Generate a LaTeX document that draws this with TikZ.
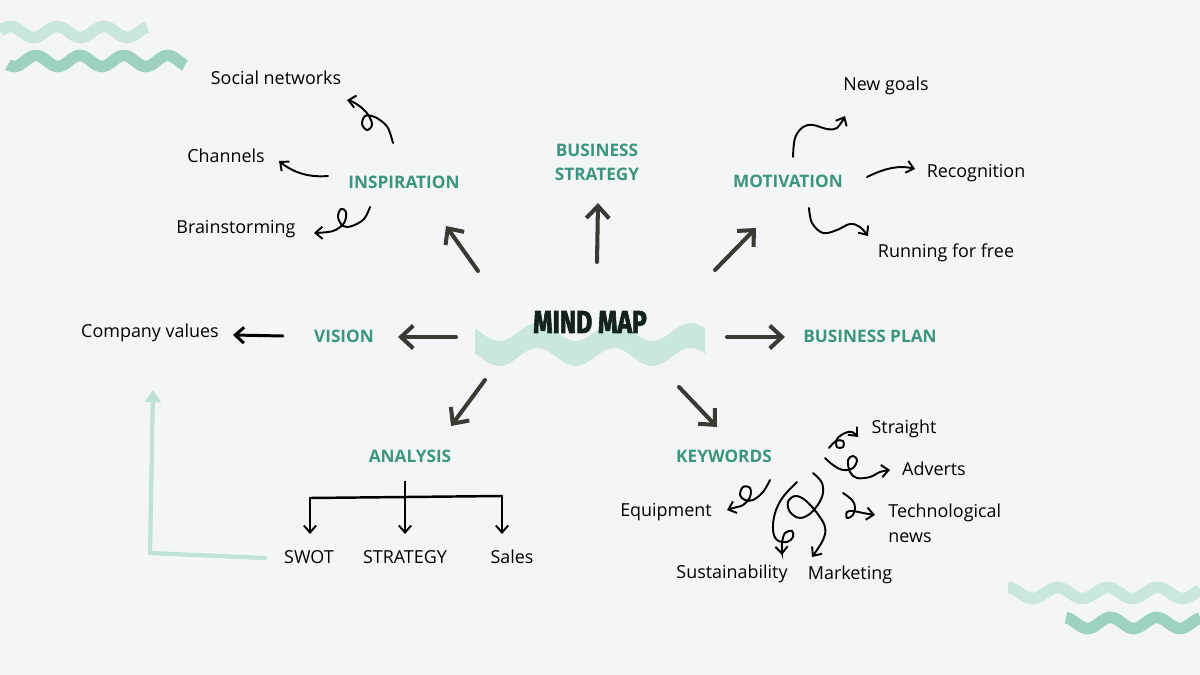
\documentclass[tikz,border=0pt]{standalone}
\usepackage{fontspec}
\setmainfont{Open Sans}
\newfontfamily\mmfont[BoldFeatures={FakeBold=2.5}]{Fira Sans}
\usetikzlibrary{arrows.meta}
\definecolor{bg}{HTML}{F3F5F7}
\definecolor{grn}{HTML}{3B9580}
\definecolor{wlight}{HTML}{C9E7DF}
\definecolor{wdark}{HTML}{9DD2C3}
\definecolor{ink}{HTML}{3A3A35}
\definecolor{lgreen}{HTML}{BFE2D8}
\definecolor{mmtext}{HTML}{14221E}
\tikzset{
  lbl/.style={font=\fontsize{10.2}{12}\selectfont, text=black, inner sep=0pt},
  topic/.style={font=\fontsize{9.8}{13.6}\selectfont\bfseries, text=grn, inner sep=0pt, align=center},
  bigarrow/.style={draw=ink, line width=2.3pt, line cap=round, -{Straight Barb[length=7pt,width=13pt,line width=2.3pt]}},
  thinarrow/.style={draw=black, line width=1.1pt, line cap=round, -{Straight Barb[length=4pt,width=7pt,line width=1.1pt]}},
  wave/.style={line width=6.6pt},
}
\begin{document}
\begin{tikzpicture}[x=0.02cm,y=-0.02cm]
\fill[bg] (0,0) rectangle (1200,675);
\useasboundingbox (0,0) rectangle (1200,675);

% decorative waves
\draw[wave, wlight] plot[domain=0:147, samples=120] (\x, {32+5.5*sin((\x-22)*7.7)});
\draw[wave, wdark] plot[domain=8:185, samples=140] (\x, {61+5.5*sin((\x-47)*8.2)});
\draw[wave, wlight] plot[domain=1008:1200, samples=140] (\x, {593+5.5*sin((\x-1020)*7.2)});
\draw[wave, wdark] plot[domain=1066:1200, samples=120] (\x, {623+5.5*sin((\x-1076)*7.8)});

% central wave
\fill[wlight] plot[domain=475:705, samples=160] (\x, {332+9*sin((\x-480)*4.7)})
  -- plot[domain=705:475, samples=160] (\x, {357+9*sin((\x-480)*4.7)}) -- cycle;

% centre node
\node[inner sep=0pt, text=mmtext] (mm) at (590,322) {\scalebox{0.78}[1]{\fontsize{18}{20}\selectfont\mmfont\bfseries MIND MAP}};

% topics
\node[topic] (insp) at (404,182) {INSPIRATION};
\node[topic] (bs) at (597,162) {BUSINESS\\STRATEGY};
\node[topic] (mot) at (788,181) {MOTIVATION};
\node[topic] (vis) at (344,336) {VISION};
\node[topic] (bp) at (870,336) {BUSINESS PLAN};
\node[topic] (ana) at (410,456) {ANALYSIS};
\node[topic] (kw) at (724,456) {KEYWORDS};

% leaves
\node[lbl] (soc) at (276,78) {Social networks};
\node[lbl] (chan) at (226,156) {Channels};
\node[lbl] (brain) at (236,229) {Brainstorming};
\node[lbl] (goals) at (886,86) {New goals};
\node[lbl] (rec) at (976,173) {Recognition};
\node[lbl] (run) at (946,253) {Running for free};
\node[lbl] (cv) at (150,333) {Company values};
\node[lbl] (swot) at (309,557) {SWOT};
\node[lbl] (strat) at (405,557) {STRATEGY};
\node[lbl] (sales) at (512,557) {Sales};
\node[lbl] (str) at (904,429) {Straight};
\node[lbl] (adv) at (934,469) {Adverts};
\node[lbl, anchor=north west, align=left, font=\fontsize{10.2}{14}\selectfont] (tech) at (888,504) {Technological\\news};
\node[lbl] (equip) at (666,512) {Equipment};
\node[lbl] (sust) at (732,574) {Sustainability};
\node[lbl] (mkt) at (850,575) {Marketing};

% main arrows
\coordinate (a1s) at (478,271); \coordinate (a1e) at (446,226);
\draw[bigarrow] (a1s) -- (a1e);
\coordinate (a2s) at (597,262); \coordinate (a2e) at (598,203);
\draw[bigarrow] (a2s) -- (a2e);
\coordinate (a3s) at (715,270); \coordinate (a3e) at (756,228);
\draw[bigarrow] (a3s) -- (a3e);
\coordinate (a4s) at (456,337); \coordinate (a4e) at (398,337);
\draw[bigarrow] (a4s) -- (a4e);
\coordinate (a5s) at (727,337); \coordinate (a5e) at (785,337);
\draw[bigarrow] (a5s) -- (a5e);
\coordinate (a6s) at (485,380); \coordinate (a6e) at (451,426);
\draw[bigarrow] (a6s) -- (a6e);
\coordinate (a7s) at (679,387); \coordinate (a7e) at (717,427);
\draw[bigarrow] (a7s) -- (a7e);

% vision -> company values
\coordinate (cvs) at (283,336); \coordinate (cve) at (233,335);
\draw[draw=black, line width=1.7pt, line cap=round, -{Straight Barb[length=5pt,width=9pt,line width=1.7pt]}] (cvs) -- (cve);

% inspiration curls
\draw[thinarrow] plot[smooth, tension=0.6] coordinates {(393,143) (388,128) (380,120) (372,116) (365,116) (362,124) (367,130) (372,125) (369,116) (362,108) (353,102) (347,100)};
\draw[thinarrow] (328,176) .. controls (305,178) and (290,170) .. (279,161);
\draw[thinarrow] plot[smooth, tension=0.6] coordinates {(370,207) (364,219) (352,226) (343,226) (338,217) (341,209) (346,212) (344,223) (333,231) (314,233)};

% motivation curls
\draw[thinarrow] plot[smooth, tension=0.6] coordinates {(793,157) (795,138) (803,127) (813,125) (827,129) (837,128) (845,116)};
\draw[thinarrow] (867,177) .. controls (885,168) and (900,165) .. (915,169);
\draw[thinarrow] plot[smooth, tension=0.6] coordinates {(809,208) (812,223) (823,233) (837,230) (850,224) (860,227) (868,236)};

% analysis tree
\coordinate (t0) at (405,481); \coordinate (t1) at (405,496);
\coordinate (tl) at (310,498); \coordinate (tr) at (502,496);
\draw[black, line width=1.4pt] (t0) -- (t1);
\draw[black, line width=1.4pt, line cap=round] (tl) -- (tr);
\draw[thinarrow, line width=1.4pt] (tl) -- (310,534);
\draw[thinarrow, line width=1.4pt] (t1) -- (405,534);
\draw[thinarrow, line width=1.4pt] (tr) -- (502,534);

% light green L arrow
\draw[lgreen, line width=2.4pt, line cap=round, line join=round, -{Triangle[length=7pt,width=9pt]}] (265,558) -- (150,553) -- (153,390);

% keywords curls
\draw[thinarrow] plot[smooth, tension=0.6] coordinates {(770,480) (763,492) (753,500) (745,500) (740,495) (743,487) (750,488) (750,497) (743,505) (733,508) (727,510)};
\draw[thinarrow] plot[smooth, tension=0.6] coordinates {(829,448) (836,441) (843,441) (843,447) (837,447) (837,439) (845,433) (852,432) (858,437)};
\draw[thinarrow] plot[smooth, tension=0.6] coordinates {(825,458) (833,465) (843,470) (853,468) (857,460) (853,456) (848,460) (850,472) (857,478) (870,477) (880,472) (890,470)};
\draw[thinarrow] plot[smooth, tension=0.6] coordinates {(843,493) (852,500) (855,507) (853,515) (847,518) (847,512) (853,511) (863,513) (875,515)};
\draw[thinarrow] plot[smooth, tension=0.6] coordinates {(797,482) (783,497) (775,513) (773,530) (777,540) (787,542) (793,537) (792,531) (785,533) (782,543) (782,555)};
\draw[thinarrow] plot[smooth, tension=0.6] coordinates {(813,473) (822,483) (822,497) (812,512) (800,518) (790,512) (788,502) (795,496) (805,500) (817,513) (825,527) (823,540) (812,557)};
\end{tikzpicture}
\end{document}
